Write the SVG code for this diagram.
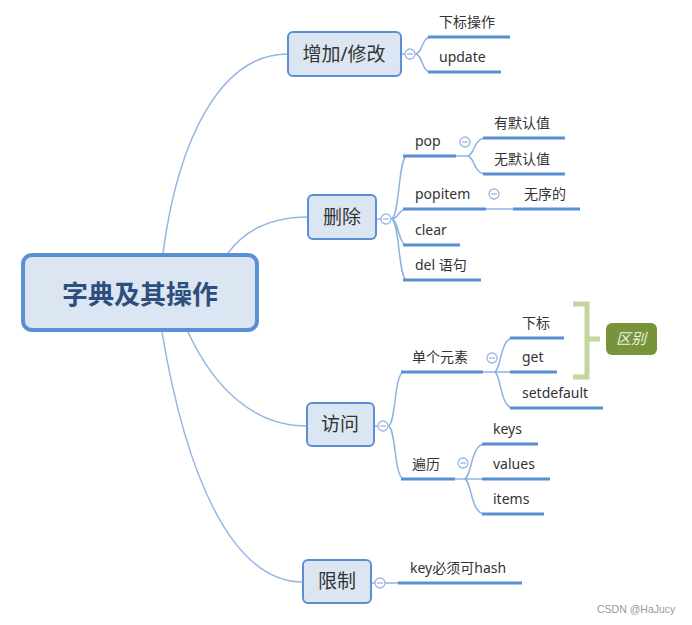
<svg xmlns="http://www.w3.org/2000/svg" width="692" height="625" viewBox="0 0 692 625">
<style>
.main{fill:none;stroke:#94b6e3;stroke-width:1.5}
.br{fill:none;stroke:#8db3e2;stroke-width:1.5}
.ul{fill:none;stroke:#5a8ed5;stroke-width:3}
.node{fill:#dce6f2;stroke:#5b8fd5;stroke-width:2}
.ntext{font-family:"Noto Sans","Noto Sans CJK SC",sans-serif;font-size:19px;fill:#333;text-anchor:middle}
.t{font-family:"Noto Sans","Noto Sans CJK SC",sans-serif;font-size:14px;fill:#333}
.col{fill:#fff;stroke:#9ab8e0;stroke-width:1.3}
.colm{stroke:#9ab8e0;stroke-width:1.3}
</style>
<defs>
<g id="collapse"><circle class="col" cx="0" cy="0" r="5"/><line class="colm" x1="-3" y1="0" x2="3" y2="0"/></g>
</defs>
<rect width="692" height="625" fill="#fff"/>
<g id="connectors">
<path class="main" d="M163,253 C178,140 220,54 288,54"/>
<path class="main" d="M228,253 C245,230 270,217 308,217"/>
<path class="main" d="M188,332 C215,390 255,426 307,426"/>
<path class="main" d="M162,332 C185,470 230,582 303,582"/>
<!-- 增加/修改 -->
<path class="br" d="M402,54 L405,54 M415,54 C423,54 421,37 431,37 M415,54 C423,54 421,72 431,72"/>
<path class="ul" d="M428,37 H510 M428,72 H501"/>
<!-- 删除 -->
<path class="br" d="M377,219 L381,219 M391,219 C400,219 398,156 407,156 M391,219 C399,219 398,209 407,209 M391,219 C399,219 398,245 407,245 M391,219 C400,219 398,280 407,280"/>
<path class="ul" d="M403,156 H456 M403,209 H486 M403,245 H460 M403,280 H481"/>
<path class="br" d="M456,156 L467,156 C475,156 473,138 486,138 M467,156 C475,156 473,174 486,174"/>
<path class="ul" d="M483,138 H565 M483,174 H565"/>
<path class="br" d="M486,209 H514"/>
<path class="ul" d="M513,209 H580"/>
<!-- 访问 -->
<path class="br" d="M375,426 L378,426 M388,426 C396,426 394,372 404,372 M388,426 C396,426 394,479 404,479"/>
<path class="ul" d="M401,372 H483 M401,479 H455"/>
<path class="br" d="M483,372 H512 M494,372 C501,372 500,338 513,338 M494,372 C501,372 500,408 513,408"/>
<path class="ul" d="M510,338 H564 M510,372 H557 M510,408 H603"/>
<path class="br" d="M455,479 H485 M464,479 C472,479 470,444 485,444 M464,479 C472,479 470,514 485,514"/>
<path class="ul" d="M482,444 H538 M482,479 H550 M482,514 H544"/>
<!-- 限制 -->
<path class="br" d="M372,583 L375,583 M385,583 H399"/>
<path class="ul" d="M398,583 H522"/>
</g>
<g id="root">
<rect x="23" y="255" width="234" height="75" rx="9" fill="#dce6f2" stroke="#5b8fd5" stroke-width="4"/>
<text x="140" y="304" font-family="Noto Sans CJK SC,sans-serif" font-size="26" font-weight="bold" fill="#2e4f7e" text-anchor="middle">字典及其操作</text>
</g>
<g id="n-add">
<rect class="node" x="288" y="32" width="113" height="44" rx="5"/>
<text class="ntext" x="344" y="61">增加/修改</text>
<use href="#collapse" x="410" y="54"/>
<text class="t" x="439" y="27">下标操作</text>
<text class="t" x="439" y="62">update</text>
</g>
<g id="n-del">
<rect class="node" x="308" y="195" width="68" height="44" rx="5"/>
<text class="ntext" x="342" y="224">删除</text>
<use href="#collapse" x="386" y="219"/>
<text class="t" x="415" y="146">pop</text>
<use href="#collapse" x="465" y="142"/>
<text class="t" x="494" y="128">有默认值</text>
<text class="t" x="494" y="164">无默认值</text>
<text class="t" x="415" y="199">popitem</text>
<use href="#collapse" x="494" y="194"/>
<text class="t" x="524" y="199">无序的</text>
<text class="t" x="415" y="235">clear</text>
<text class="t" x="415" y="270">del 语句</text>
</g>
<g id="n-visit">
<rect class="node" x="307" y="403" width="67" height="43" rx="5"/>
<text class="ntext" x="340" y="431">访问</text>
<use href="#collapse" x="383" y="426"/>
<text class="t" x="412" y="362">单个元素</text>
<use href="#collapse" x="492" y="358"/>
<text class="t" x="522" y="328">下标</text>
<text class="t" x="522" y="362">get</text>
<text class="t" x="522" y="398">setdefault</text>
<text class="t" x="412" y="469">遍历</text>
<use href="#collapse" x="463" y="463"/>
<text class="t" x="493" y="434">keys</text>
<text class="t" x="493" y="469">values</text>
<text class="t" x="493" y="504">items</text>
</g>
<g id="n-limit">
<rect class="node" x="303" y="560" width="68" height="43" rx="5"/>
<text class="ntext" x="337" y="588">限制</text>
<use href="#collapse" x="380" y="583"/>
<text class="t" x="410" y="573">key必须可hash</text>
</g>
<g id="boundary">
<path d="M573,304 H587 V377 H573 M587,339 H600" fill="none" stroke="#c3d69b" stroke-width="5"/>
<rect x="606" y="323" width="51" height="32" rx="6" fill="#77933c"/>
<text x="631" y="344" font-family="Noto Sans CJK SC,sans-serif" font-size="15" font-style="italic" fill="#ebf1de" text-anchor="middle">区别</text>
</g>
<text x="597" y="613" font-family="Liberation Sans,sans-serif" font-size="10.5" fill="#999">CSDN @HaJucy</text>
</svg>
